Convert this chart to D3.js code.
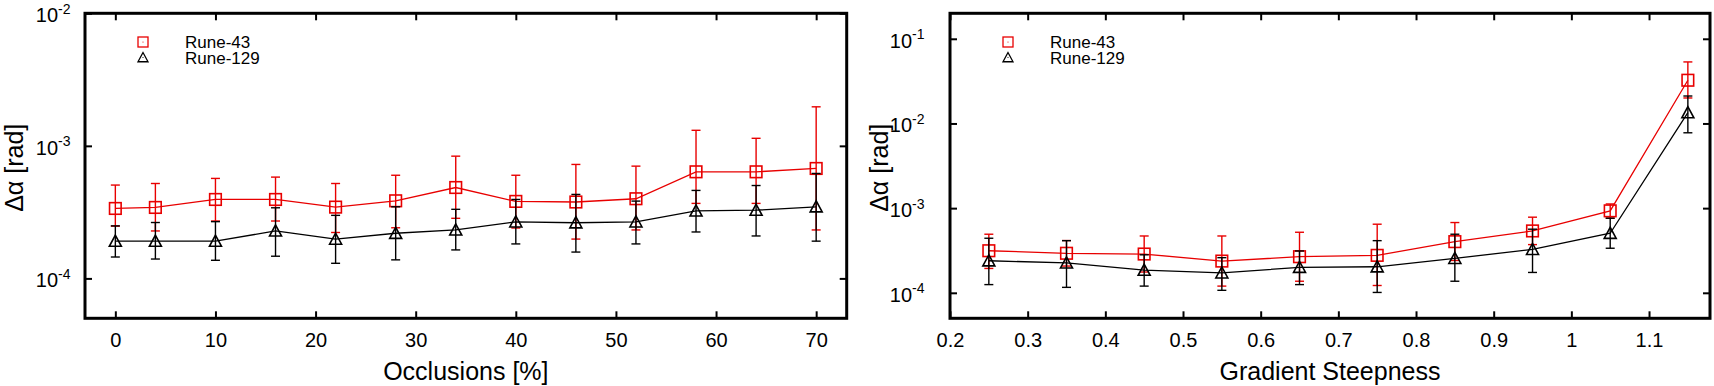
<!DOCTYPE html>
<html>
<head>
<meta charset="utf-8">
<script src="https://cdn.jsdelivr.net/npm/d3@7"></script>
<style>
  html, body { margin: 0; padding: 0; background: #fff; }
  svg { display: block; }
  text { font-family: "Liberation Sans", Arial, Helvetica, sans-serif; fill: #000; }
</style>
</head>
<body>
<svg id="chart" width="1714" height="386"></svg>
<script>
// ---------- data ----------
const seriesNames = ["Rune-43", "Rune-129"];

// Left panel: Occlusions [%]
const occX = [0, 4, 10, 16, 22, 28, 34, 40, 46, 52, 58, 64, 70];
const occR43    = [3.37e-4, 3.43e-4, 3.94e-4, 3.94e-4, 3.45e-4, 3.85e-4, 4.85e-4, 3.81e-4, 3.77e-4, 3.99e-4, 6.37e-4, 6.37e-4, 6.75e-4];
const occR43Hi  = [5.06e-4, 5.20e-4, 5.68e-4, 5.81e-4, 5.20e-4, 6.00e-4, 8.36e-4, 6.00e-4, 7.24e-4, 7.03e-4, 1.31e-3, 1.14e-3, 1.97e-3];
const occR43Lo  = [2.48e-4, 2.28e-4, 2.71e-4, 2.71e-4, 2.22e-4, 2.41e-4, 2.84e-4, 2.40e-4, 1.98e-4, 2.32e-4, 3.68e-4, 3.68e-4, 2.32e-4];
const occR129   = [1.91e-4, 1.91e-4, 1.91e-4, 2.28e-4, 1.98e-4, 2.19e-4, 2.32e-4, 2.67e-4, 2.63e-4, 2.67e-4, 3.23e-4, 3.27e-4, 3.47e-4];
const occR129Hi = [2.49e-4, 2.64e-4, 2.68e-4, 3.41e-4, 2.99e-4, 3.47e-4, 3.32e-4, 3.94e-4, 4.30e-4, 3.83e-4, 4.61e-4, 5.02e-4, 6.19e-4];
const occR129Lo = [1.45e-4, 1.40e-4, 1.37e-4, 1.47e-4, 1.30e-4, 1.38e-4, 1.64e-4, 1.82e-4, 1.58e-4, 1.82e-4, 2.24e-4, 2.09e-4, 1.91e-4];

// Right panel: Gradient Steepness
const gradX = [0.25, 0.35, 0.45, 0.55, 0.65, 0.75, 0.85, 0.95, 1.05, 1.15];
const gradR43    = [3.14e-4, 2.93e-4, 2.87e-4, 2.37e-4, 2.67e-4, 2.77e-4, 4.02e-4, 5.38e-4, 9.29e-4, 3.24e-2];
const gradR43Hi  = [4.92e-4, 4.14e-4, 4.69e-4, 4.69e-4, 5.19e-4, 6.46e-4, 6.76e-4, 7.82e-4, 1.12e-3, 5.33e-2];
const gradR43Lo  = [1.94e-4, 2.07e-4, 1.76e-4, 1.20e-4, 1.37e-4, 1.22e-4, 2.41e-4, 3.71e-4, 7.60e-4, 2.00e-2];
const gradR129   = [2.39e-4, 2.26e-4, 1.85e-4, 1.72e-4, 2.00e-4, 2.03e-4, 2.55e-4, 3.26e-4, 5.05e-4, 1.34e-2];
const gradR129Hi = [4.41e-4, 4.13e-4, 2.81e-4, 2.60e-4, 3.12e-4, 4.13e-4, 4.92e-4, 5.64e-4, 7.60e-4, 2.11e-2];
const gradR129Lo = [1.25e-4, 1.16e-4, 1.20e-4, 1.07e-4, 1.25e-4, 1.01e-4, 1.37e-4, 1.74e-4, 3.36e-4, 7.76e-3];

// ticks
const occXTicks = [0, 10, 20, 30, 40, 50, 60, 70];
const occYTicks = [1e-4, 1e-3, 1e-2];
const occYTickExp = ["-4", "-3", "-2"];
const gradXTicks = [0.2, 0.3, 0.4, 0.5, 0.6, 0.7, 0.8, 0.9, 1.0, 1.1];
const gradXTickLabels = ["0.2", "0.3", "0.4", "0.5", "0.6", "0.7", "0.8", "0.9", "1", "1.1"];
const gradYTicks = [1e-4, 1e-3, 1e-2, 1e-1];
const gradYTickExp = ["-4", "-3", "-2", "-1"];

const yTitle = "Δα [rad]";
const occXTitle = "Occlusions [%]";
const gradXTitle = "Gradient Steepness";

// ---------- drawing ----------
const RED = "#e80000";
const BLK = "#000000";
const svg = d3.select("#chart");

function triPath(s) { // centroid-ish at origin
  return `M0,${-s}L${-s},${s * 0.85}L${s},${s * 0.85}Z`;
}

function panel(cfg) {
  const x = d3.scaleLinear().domain(cfg.xDomain).range([cfg.x0, cfg.x1]);
  const y = d3.scaleLog().domain(cfg.yDomain).range([cfg.y1, cfg.y0]);
  const g = svg.append("g");
  const TK = 7;

  // bottom axis
  const axB = d3.axisBottom(x).tickValues(cfg.xTicks).tickSizeInner(-TK).tickSizeOuter(0)
    .tickFormat((d, i) => cfg.xTickLabels[i]);
  const gb = g.append("g").attr("transform", `translate(0,${cfg.y1})`).call(axB);
  gb.select(".domain").remove();
  gb.selectAll("line").attr("stroke", "#000").attr("stroke-width", 2);
  gb.selectAll("text").attr("y", 28.5).attr("dy", 0).attr("font-size", 20)
    .attr("font-family", null).attr("fill", "#000");

  // top axis (mirror ticks)
  const axT = d3.axisTop(x).tickValues(cfg.xTicks).tickSizeInner(-TK).tickSizeOuter(0).tickFormat("");
  const gt = g.append("g").attr("transform", `translate(0,${cfg.y0})`).call(axT);
  gt.select(".domain").remove();
  gt.selectAll("line").attr("stroke", "#000").attr("stroke-width", 2);

  // left axis
  const axL = d3.axisLeft(y).tickValues(cfg.yTicks).tickSizeInner(-TK).tickSizeOuter(0).tickFormat("");
  const gl = g.append("g").attr("transform", `translate(${cfg.x0},0)`).call(axL);
  gl.select(".domain").remove();
  gl.selectAll("line").attr("stroke", "#000").attr("stroke-width", 2);
  gl.selectAll(".tick").each(function (d, i) {
    const t = d3.select(this).append("text")
      .attr("x", cfg.yLabelRight - cfg.x0).attr("y", 8.5)
      .attr("text-anchor", "end").attr("font-size", 20).attr("fill", "#000")
      .attr("font-family", null);
    t.append("tspan").text("10");
    t.append("tspan").attr("dy", -8.5).attr("font-size", 14).text(cfg.yTickExp[i]);
  });

  // right axis (mirror ticks)
  const axR = d3.axisRight(y).tickValues(cfg.yTicks).tickSizeInner(-TK).tickSizeOuter(0).tickFormat("");
  const gr = g.append("g").attr("transform", `translate(${cfg.x1},0)`).call(axR);
  gr.select(".domain").remove();
  gr.selectAll("line").attr("stroke", "#000").attr("stroke-width", 2);

  // series
  const series = [
    { c: RED, v: cfg.r43, hi: cfg.r43Hi, lo: cfg.r43Lo, m: "sq" },
    { c: BLK, v: cfg.r129, hi: cfg.r129Hi, lo: cfg.r129Lo, m: "tri" }
  ];
  const line = d3.line().x(d => x(d[0])).y(d => y(d[1]));
  series.forEach(s => {
    const pts = cfg.xs.map((xv, i) => [xv, s.v[i], s.lo[i], s.hi[i]]);
    const sg = g.append("g");
    sg.append("path").datum(pts).attr("d", line).attr("fill", "none")
      .attr("stroke", s.c).attr("stroke-width", 1.3);
    const eb = sg.selectAll(".eb").data(pts).enter().append("g");
    eb.append("line").attr("x1", d => x(d[0])).attr("x2", d => x(d[0]))
      .attr("y1", d => y(d[2])).attr("y2", d => y(d[3]))
      .attr("stroke", s.c).attr("stroke-width", 1.4);
    eb.append("line").attr("x1", d => x(d[0]) - 4.5).attr("x2", d => x(d[0]) + 4.5)
      .attr("y1", d => y(d[3])).attr("y2", d => y(d[3]))
      .attr("stroke", s.c).attr("stroke-width", 1.4);
    eb.append("line").attr("x1", d => x(d[0]) - 4.5).attr("x2", d => x(d[0]) + 4.5)
      .attr("y1", d => y(d[2])).attr("y2", d => y(d[2]))
      .attr("stroke", s.c).attr("stroke-width", 1.4);
    if (s.m === "sq") {
      sg.selectAll(".mk").data(pts).enter().append("rect")
        .attr("x", d => x(d[0]) - 5.8).attr("y", d => y(d[1]) - 5.8)
        .attr("width", 11.6).attr("height", 11.6)
        .attr("fill", "none").attr("stroke", s.c).attr("stroke-width", 1.6);
    } else {
      sg.selectAll(".mk").data(pts).enter().append("path")
        .attr("transform", d => `translate(${x(d[0])},${y(d[1])})`)
        .attr("d", triPath(6))
        .attr("fill", "none").attr("stroke", s.c).attr("stroke-width", 1.6);
    }
  });

  // frame
  g.append("rect").attr("x", cfg.x0).attr("y", cfg.y0)
    .attr("width", cfg.x1 - cfg.x0).attr("height", cfg.y1 - cfg.y0)
    .attr("fill", "none").attr("stroke", "#000").attr("stroke-width", 3);

  // legend
  const lx = cfg.x0 + 58, ly1 = 42, ly2 = 57;
  g.append("rect").attr("x", lx - 5).attr("y", ly1 - 5).attr("width", 10).attr("height", 10)
    .attr("fill", "none").attr("stroke", RED).attr("stroke-width", 1.3);
  g.append("circle").attr("cx", lx).attr("cy", ly1).attr("r", 0.6).attr("fill", RED);
  g.append("path").attr("transform", `translate(${lx},${ly2 + 0.5})`).attr("d", triPath(5))
    .attr("fill", "none").attr("stroke", BLK).attr("stroke-width", 1.3);
  g.append("circle").attr("cx", lx).attr("cy", ly2 + 0.5).attr("r", 0.6).attr("fill", BLK);
  g.append("text").attr("x", lx + 42).attr("y", 47.5).attr("font-size", 17).text(seriesNames[0]);
  g.append("text").attr("x", lx + 42).attr("y", 63.5).attr("font-size", 17).text(seriesNames[1]);

  // titles
  g.append("text").attr("x", (cfg.x0 + cfg.x1) / 2).attr("y", 380)
    .attr("text-anchor", "middle").attr("font-size", 25).text(cfg.xTitle);
  g.append("text").attr("transform", `translate(${cfg.yTitleX},${(cfg.y0 + cfg.y1) / 2 + 2}) rotate(-90)`)
    .attr("text-anchor", "middle").attr("font-size", 25).text(yTitle);
}

panel({
  x0: 85, x1: 846.7, y0: 13.3, y1: 318.3,
  xDomain: [-3.03, 73.05], yDomain: [5e-5, 1e-2],
  xTicks: occXTicks, xTickLabels: occXTicks.map(String),
  yTicks: occYTicks, yTickExp: occYTickExp, yLabelRight: 70.5,
  xs: occX, r43: occR43, r43Hi: occR43Hi, r43Lo: occR43Lo,
  r129: occR129, r129Hi: occR129Hi, r129Lo: occR129Lo,
  xTitle: occXTitle, yTitleX: 22.5
});

panel({
  x0: 950, x1: 1710, y0: 13.3, y1: 318.3,
  xDomain: [0.2, 1.1785], yDomain: [5e-5, 0.2],
  xTicks: gradXTicks, xTickLabels: gradXTickLabels,
  yTicks: gradYTicks, yTickExp: gradYTickExp, yLabelRight: 924.5,
  xs: gradX, r43: gradR43, r43Hi: gradR43Hi, r43Lo: gradR43Lo,
  r129: gradR129, r129Hi: gradR129Hi, r129Lo: gradR129Lo,
  xTitle: gradXTitle, yTitleX: 888
});
</script>
</body>
</html>
